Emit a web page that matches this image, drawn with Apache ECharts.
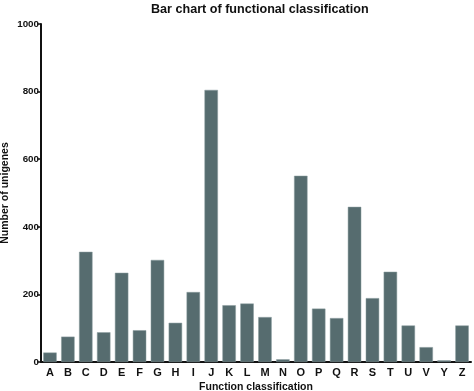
<!DOCTYPE html>
<html><head><meta charset="utf-8">
<script src="https://cdn.jsdelivr.net/npm/echarts@6/dist/echarts.min.js"></script>
<style>html,body{margin:0;padding:0;background:#fff}#c{width:474px;height:391px}</style>
</head><body><div id="c"></div>
<script>
var categories = ['A','B','C','D','E','F','G','H','I','J','K','L','M','N','O','P','Q','R','S','T','U','V','Y','Z'];
var counts = [28,75,326,88,264,94,302,116,207,805,168,173,133,8,551,158,130,459,189,267,108,44,5,108];
var yTicks = [0,200,400,600,800,1000];

var F = '"Liberation Sans", Arial, sans-serif';
var chart = echarts.init(document.getElementById('c'), null, {renderer:'canvas'});
chart.setOption({
  animation:false,
  title:{text:'Bar chart of functional classification',left:146,top:-2,
    textStyle:{fontFamily:F,fontWeight:'bold',fontSize:12.6,color:'#111'}},
  grid:{left:41,right:3,top:24,bottom:29,containLabel:false,outerBoundsMode:'none'},
  xAxis:{type:'category',data:categories,
    name:'Function classification',nameLocation:'middle',nameGap:20,nameMoveOverlap:false,
    nameTextStyle:{fontFamily:F,fontWeight:'bold',fontSize:10.5,color:'#111'},
    axisLine:{lineStyle:{color:'#111',width:2}},
    axisTick:{alignWithLabel:true,length:4,lineStyle:{color:'#111',width:1.5}},
    axisLabel:{fontFamily:F,fontWeight:'bold',fontSize:11,color:'#111',margin:5}},
  yAxis:{type:'value',min:yTicks[0],max:yTicks[yTicks.length-1],interval:200,
    name:'Number of unigenes',nameLocation:'middle',nameGap:30,nameRotate:90,nameMoveOverlap:false,
    nameTextStyle:{fontFamily:F,fontWeight:'bold',fontSize:10.5,color:'#111'},
    axisLine:{show:true,lineStyle:{color:'#111',width:2}},
    axisTick:{show:true,length:4,lineStyle:{color:'#111',width:1.5}},
    splitLine:{show:false},
    axisLabel:{fontFamily:F,fontWeight:'bold',fontSize:9.8,color:'#111',margin:2,
      formatter:function(v){return String(v);}}},
  series:[{type:'bar',data:counts,barCategoryGap:'25%',
    itemStyle:{color:'#566c6f',borderColor:'#8a9c9e',borderWidth:0.5}}]
});
</script></body></html>
